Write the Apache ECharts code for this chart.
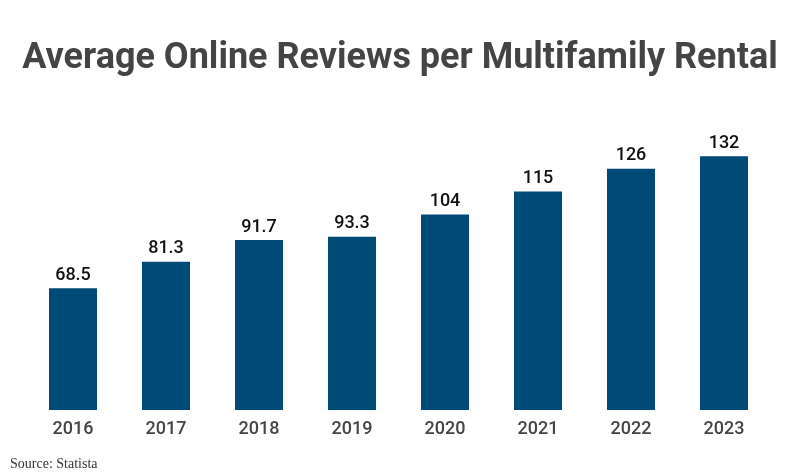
<!DOCTYPE html>
<html>
<head>
<meta charset="utf-8">
<script src="https://cdn.jsdelivr.net/npm/echarts@6/dist/echarts.min.js"></script>
<style>
  html, body { margin: 0; padding: 0; background: #fff; }
  #chart { width: 800px; height: 475px; }
</style>
</head>
<body>
<div id="chart"></div>
<script>
var years = ['2016', '2017', '2018', '2019', '2020', '2021', '2022', '2023'];
var reviews = [68.5, 81.3, 91.7, 93.3, 104, 115, 126, 132];
var labels = ['68.5', '81.3', '91.7', '93.3', '104', '115', '126', '132'];

var chart = echarts.init(document.getElementById('chart'));
chart.setOption({
    animation: false,
    title: [{
        text: 'Average Online Reviews per Multifamily Rental',
        left: 'center',
        top: 36,
        textStyle: {
            fontFamily: 'Roboto',
            fontWeight: 'bold',
            fontSize: 36,
            color: '#444444'
        }
    }, {
        text: 'Source: Statista',
        left: 5,
        top: 452,
        textStyle: {
            fontFamily: 'Liberation Serif',
            fontWeight: 'normal',
            fontSize: 14,
            color: '#333333'
        }
    }],
    grid: {
        left: 26.5,
        right: 29.5,
        top: 139.6,
        bottom: 65,
        containLabel: false
    },
    xAxis: {
        type: 'category',
        data: years,
        axisLine: { show: false },
        axisTick: { show: false },
        axisLabel: {
            margin: 10,
            fontFamily: 'Roboto',
            fontWeight: 500,
            fontSize: 18,
            color: '#444444'
        }
    },
    yAxis: {
        type: 'value',
        min: 10,
        max: 140,
        show: false,
        splitLine: { show: false }
    },
    series: [{
        type: 'bar',
        data: reviews,
        barWidth: 48,
        itemStyle: { color: '#004a77' },
        label: {
            show: true,
            position: 'top',
            distance: 4,
            fontFamily: 'Roboto',
            fontWeight: 500,
            fontSize: 18,
            color: '#111111',
            formatter: function (p) { return labels[p.dataIndex]; }
        }
    }]
});
</script>
</body>
</html>
